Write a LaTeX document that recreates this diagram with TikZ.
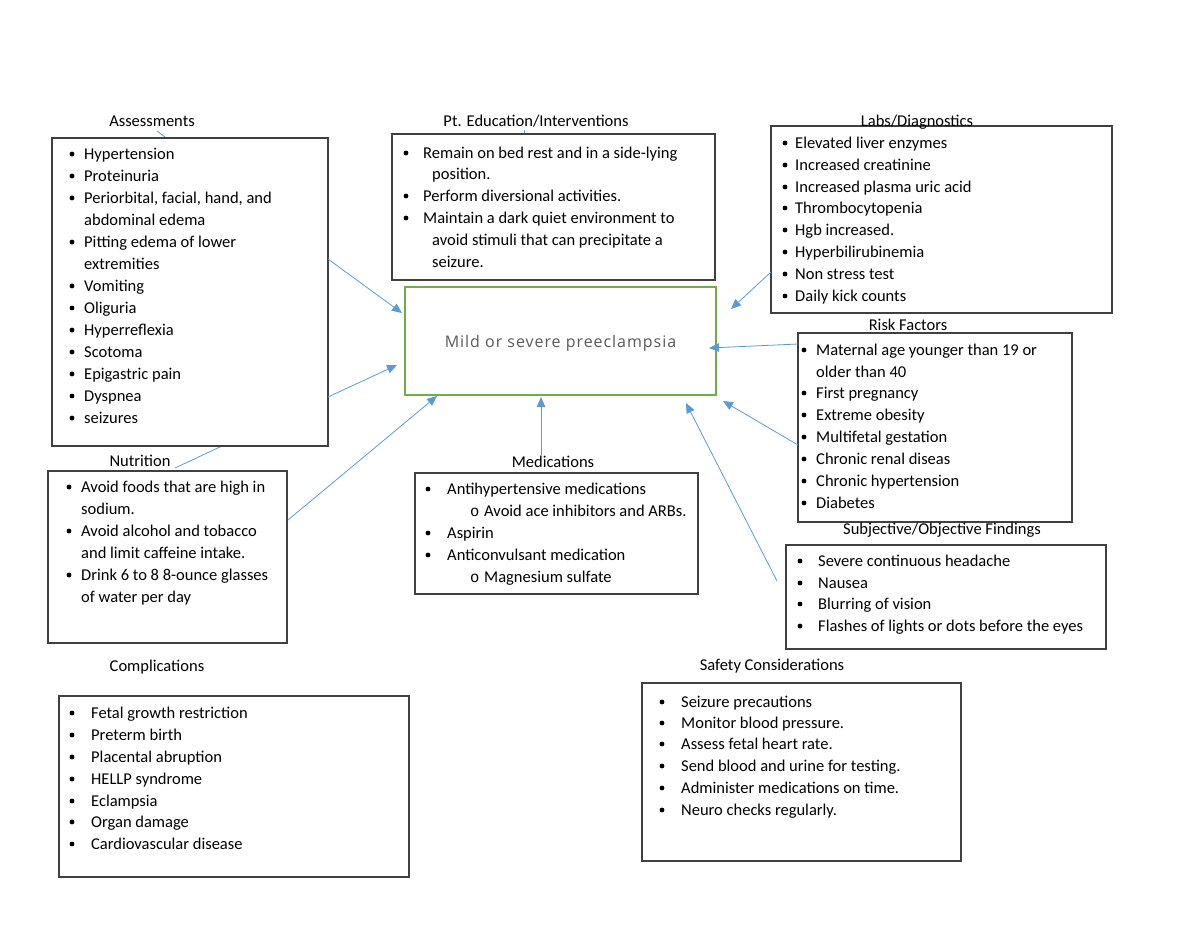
\documentclass[tikz,border=0pt]{standalone}
\usepackage{fontspec}
\setmainfont{Carlito}
\newfontfamily\centerfont[LetterSpace=6]{Open Sans}
\newfontfamily\subfont{Liberation Mono}
\usetikzlibrary{arrows.meta}
\definecolor{arrowblue}{HTML}{5B9BD5}
\definecolor{boxgreen}{HTML}{70AD47}
\definecolor{boxgray}{HTML}{404040}
\definecolor{centertext}{HTML}{595959}
\newcounter{ln}
\newcommand\bl[4]{\stepcounter{ln}\fill (#1,#3) circle (2.4pt); \node[txt] (l\theln) at (#2,#3) {#4};}
\newcommand\cl[3]{\stepcounter{ln}\node[txt] (l\theln) at (#1,#2) {#3};}
\newcommand\subl[4]{\stepcounter{ln}\node[txt, font=\subfont\fontsize{15.5}{17}\selectfont] (o\theln) at (#1,#3) {o}; \node[txt] (l\theln) at (#2,#3) {#4};}
\tikzset{
  txt/.style={anchor=mid west, inner sep=0pt, yshift=-3pt, font=\fontsize{16.5}{19}\selectfont},
  ttl/.style={anchor=mid, inner sep=0pt, yshift=-3pt, font=\fontsize{16.5}{19}\selectfont},
  box/.style={draw=boxgray, line width=1.3pt, fill=white, inner sep=0pt, rectangle},
  conn/.style={draw=arrowblue, line width=0.8pt, -{Triangle[length=10pt,width=8.5pt]}},
  seg/.style={draw=arrowblue, line width=0.8pt}
}
\begin{document}
\begin{tikzpicture}[x=1pt,y=-1pt]
\useasboundingbox[fill=white] (0,0) rectangle (1200,927);

% hidden connector fragments
\coordinate (s1a) at (157,131); \coordinate (s1b) at (165,137);
\coordinate (s2a) at (524,130); \coordinate (s2b) at (524,137);
\coordinate (s3a) at (175,468); \coordinate (s3b) at (222,446);
\draw[seg] (s1a) -- (s1b);
\draw[seg] (s2a) -- (s2b);
\draw[seg] (s3a) -- (s3b);

% boxes
\node[box, minimum width=276, minimum height=308] (assess) at (190,292) {};
\node[box, minimum width=323, minimum height=146] (pted) at (553.5,207) {};
\node[box, minimum width=341, minimum height=187] (labs) at (941.5,219.5) {};
\node[box, draw=boxgreen, line width=2.2pt, minimum width=311, minimum height=108] (center) at (560.5,341) {};
\node[box, minimum width=274, minimum height=189] (risk) at (935,427.5) {};
\node[box, minimum width=320, minimum height=104] (subj) at (946,597) {};
\node[box, minimum width=239, minimum height=172] (nutr) at (167.5,557) {};
\node[box, minimum width=283, minimum height=121] (meds) at (556.5,533.5) {};
\node[box, minimum width=350, minimum height=181] (comp) at (234,786.5) {};
\node[box, minimum width=319, minimum height=178] (safe) at (801.5,772) {};

\node[inner sep=0pt, font=\centerfont\fontsize{16}{19}\selectfont, text=centertext] (centertxt) at (560.5,343) {Mild or severe preeclampsia};

% titles
\node[ttl] (tAss) at (152,121) {Assessments};
\node[ttl] (tPt) at (536,121) {Pt. Education/Interventions};
\node[ttl] (tLabs) at (917,121) {Labs/Diagnostics};
\node[ttl] (tRisk) at (908,325) {Risk Factors};
\node[ttl] (tSubj) at (942,529) {Subjective/Objective Findings};
\node[ttl] (tNutr) at (140,461) {Nutrition};
\node[ttl] (tMeds) at (553,462) {Medications};
\node[ttl] (tComp) at (157,666) {Complications};
\node[ttl] (tSafe) at (772,665) {Safety Considerations};

% connectors
\coordinate (a1s) at (328,259); \coordinate (a1e) at (402,313);
\coordinate (a2s) at (328,397); \coordinate (a2e) at (397,365);
\coordinate (a3s) at (288,520); \coordinate (a3e) at (437,396);
\coordinate (a4s) at (541,455); \coordinate (a4e) at (541,397);
\coordinate (a5s) at (771,272); \coordinate (a5e) at (731,309);
\coordinate (a6s) at (798,344); \coordinate (a6e) at (709,348);
\coordinate (a7s) at (798,445); \coordinate (a7e) at (723,401);
\coordinate (a8s) at (777,581); \coordinate (a8e) at (686,403);
\draw[conn] (a1s) -- (a1e);
\draw[conn] (a2s) -- (a2e);
\draw[conn] (a3s) -- (a3e);
\draw[conn] (a4s) -- (a4e);
\draw[conn] (a5s) -- (a5e);
\draw[conn] (a6s) -- (a6e);
\draw[conn] (a7s) -- (a7e);
\draw[conn] (a8s) -- (a8e);

% Assessments
\bl{72}{84}{154}{Hypertension}
\bl{72}{84}{176}{Proteinuria}
\bl{72}{84}{198}{Periorbital, facial, hand, and}
\cl{84}{220}{abdominal edema}
\bl{72}{84}{242}{Pitting edema of lower}
\cl{84}{264}{extremities}
\bl{72}{84}{286}{Vomiting}
\bl{72}{84}{308}{Oliguria}
\bl{72}{84}{330}{Hyperreflexia}
\bl{72}{84}{352}{Scotoma}
\bl{72}{84}{374}{Epigastric pain}
\bl{72}{84}{396}{Dyspnea}
\bl{72}{84}{418}{seizures}

% Pt. Education
\bl{406}{423}{153}{Remain on bed rest and in a side-lying}
\cl{432}{174}{position.}
\bl{406}{423}{196}{Perform diversional activities.}
\bl{406}{423}{218}{Maintain a dark quiet environment to}
\cl{432}{240}{avoid stimuli that can precipitate a}
\cl{432}{262}{seizure.}

% Labs
\bl{785}{795}{143}{Elevated liver enzymes}
\bl{785}{795}{165}{Increased creatinine}
\bl{785}{795}{187}{Increased plasma uric acid}
\bl{785}{795}{208}{Thrombocytopenia}
\bl{785}{795}{230}{Hgb increased.}
\bl{785}{795}{252}{Hyperbilirubinemia}
\bl{785}{795}{274}{Non stress test}
\bl{785}{795}{296}{Daily kick counts}

% Risk factors
\bl{804}{816}{350}{Maternal age younger than 19 or}
\cl{816}{372}{older than 40}
\bl{804}{816}{393}{First pregnancy}
\bl{804}{816}{415}{Extreme obesity}
\bl{804}{816}{437}{Multifetal gestation}
\bl{804}{816}{459}{Chronic renal diseas}
\bl{804}{816}{481}{Chronic hypertension}
\bl{804}{816}{503}{Diabetes}

% Subjective/Objective
\bl{800}{818}{561}{Severe continuous headache}
\bl{800}{818}{583}{Nausea}
\bl{800}{818}{604}{Blurring of vision}
\bl{800}{818}{626}{Flashes of lights or dots before the eyes}

% Nutrition
\bl{69}{81}{487}{Avoid foods that are high in}
\cl{81}{509}{sodium.}
\bl{69}{81}{531}{Avoid alcohol and tobacco}
\cl{81}{553}{and limit caffeine intake.}
\bl{69}{81}{575}{Drink 6 to 8 8-ounce glasses}
\cl{81}{597}{of water per day}

% Medications
\bl{428}{447}{489}{Antihypertensive medications}
\subl{470}{484}{511}{Avoid ace inhibitors and ARBs.}
\bl{428}{447}{533}{Aspirin}
\bl{428}{447}{555}{Anticonvulsant medication}
\subl{470}{484}{577}{Magnesium sulfate}

% Complications
\bl{72}{91}{713}{Fetal growth restriction}
\bl{72}{91}{735}{Preterm birth}
\bl{72}{91}{757}{Placental abruption}
\bl{72}{91}{779}{HELLP syndrome}
\bl{72}{91}{801}{Eclampsia}
\bl{72}{91}{822}{Organ damage}
\bl{72}{91}{844}{Cardiovascular disease}

% Safety
\bl{662}{681}{702}{Seizure precautions}
\bl{662}{681}{723}{Monitor blood pressure.}
\bl{662}{681}{744}{Assess fetal heart rate.}
\bl{662}{681}{766}{Send blood and urine for testing.}
\bl{662}{681}{788}{Administer medications on time.}
\bl{662}{681}{810}{Neuro checks regularly.}
\end{tikzpicture}
\end{document}
